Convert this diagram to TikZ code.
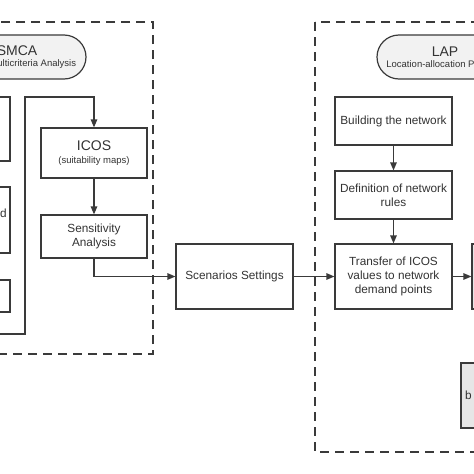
\documentclass[tikz,border=0pt]{standalone}
\usepackage{fontspec}
\setmainfont{Liberation Sans}
\usetikzlibrary{arrows.meta,shapes.misc}
\definecolor{ink}{HTML}{333333}
\definecolor{edge}{HTML}{3A3A3A}
\definecolor{pillfill}{HTML}{F2F2F2}
\definecolor{grayfill}{HTML}{E6E6E6}
\tikzset{
  box/.style={draw=edge, line width=1.2pt, fill=white, text=ink, align=center, inner sep=2pt,
    font=\fontsize{11.8}{14}\selectfont},
  graybox/.style={box, fill=grayfill},
  pill/.style={draw=edge, line width=1.2pt, fill=pillfill, rounded rectangle, text=ink, align=center,
    inner sep=0pt},
  group/.style={draw=edge, line width=1.2pt, dash pattern=on 9pt off 6pt},
  conn/.style={draw=edge, line width=1.2pt, -{Triangle[length=8pt,width=6.5pt]}},
  plain/.style={draw=edge, line width=1.2pt},
  big/.style={font=\fontsize{14}{16}\selectfont},
  small/.style={font=\fontsize{9.5}{11}\selectfont}
}
\begin{document}
\begin{tikzpicture}[x=1pt,y=-1pt]
\useasboundingbox (0,0) rectangle (474,474);
\clip (0,0) rectangle (474,474);
\fill[white] (0,0) rectangle (474,474);
% groups
\draw[group] (-60,22) rectangle (153,354);
\draw[group] (315,22) rectangle (560,452);
% pills
\node[pill, minimum width=138pt, minimum height=44pt] (smca) at (17,57)
  {\fontsize{14}{16}\selectfont SMCA\\[-1pt]\fontsize{9.5}{11}\selectfont Spatial Multicriteria Analysis};
\node[pill, minimum width=136pt, minimum height=44pt] (lap) at (445,57)
  {\fontsize{14}{16}\selectfont LAP\\[-1pt]\fontsize{9.5}{11}\selectfont Location-allocation Problem};
% left column (cut off)
\node[box, minimum width=70pt, minimum height=64pt] (l1) at (-25,129) {};
\node[box, minimum width=70pt, minimum height=66pt] (l2) at (-25,220) {};
\node[box, minimum width=70pt, minimum height=32pt] (l3) at (-25,296) {};
\node[text=ink, font=\fontsize{11.8}{14}\selectfont, anchor=east, inner sep=0pt] (l2t) at (7,213) {d};
% SMCA boxes
\node[box, minimum width=106pt, minimum height=50pt] (icos) at (94,153)
  {\fontsize{14}{16}\selectfont ICOS\\[-1pt]\fontsize{9.5}{11}\selectfont (suitability maps)};
\node[box, minimum width=106pt, minimum height=43pt] (sens) at (94,236.5) {Sensitivity\\Analysis};
\node[box, minimum width=117pt, minimum height=65pt] (scen) at (234.5,276.5) {Scenarios Settings};
% LAP boxes
\node[box, minimum width=117pt, minimum height=48pt] (build) at (393.5,121) {Building the network};
\node[box, minimum width=117pt, minimum height=48pt] (defn) at (393.5,195) {Definition of network\\rules};
\node[box, minimum width=117pt, minimum height=65pt] (trans) at (393.5,276.5) {Transfer of ICOS\\values to network\\demand points};
\node[box, fill=grayfill, minimum width=68pt, minimum height=65pt] (next) at (506,276.5) {};
\node[graybox, minimum width=80pt, minimum height=65pt] (res) at (501,395.5) {};
\node[text=ink, font=\fontsize{11.8}{14}\selectfont, anchor=west, inner sep=0pt] (rest) at (465,395) {b};
% connectors
\coordinate (in) at (-10,334);
\draw[conn] (in) -- (25,334) -- (25,97) -- (icos.north |- 0,97) -- (icos.north);
\draw[conn] (icos) -- (sens);
\draw[conn] (sens.south) |- (scen.west);
\draw[conn] (scen) -- (trans);
\draw[conn] (build) -- (defn);
\draw[conn] (defn) -- (trans);
\draw[conn] (trans) -- (next);
\end{tikzpicture}
\end{document}
